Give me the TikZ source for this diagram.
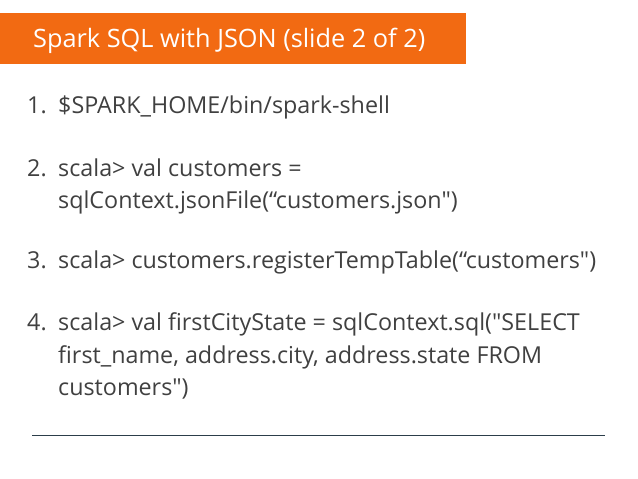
\documentclass[tikz,border=0pt]{standalone}
\usepackage{fontspec}
\setmainfont{Open Sans}[Ligatures=TeXOff]
\definecolor{barorange}{RGB}{242,106,18}
\definecolor{bodygray}{RGB}{64,64,64}
\definecolor{rulegray}{RGB}{44,62,74}
\begin{document}
\begin{tikzpicture}[x=1pt, y=-1pt, line join=round, line cap=round,
	title/.style={anchor=base west, inner sep=0pt, text=white, font=\fontsize{25.3}{30}\selectfont},
	num/.style={anchor=base west, inner sep=0pt, text=bodygray, font=\fontsize{23.3}{28}\selectfont},
	body/.style={anchor=base west, inner sep=0pt, text=bodygray, font=\fontsize{23.3}{28}\selectfont}]
	\def\W{638} \def\H{479} % page in px
	\def\xn{27} \def\xt{58} % number and text columns
	\useasboundingbox (0,0) rectangle (\W,\H);
	\fill[white] (0,0) rectangle (\W,\H);
	% header bar
	\fill[barorange] (0,13) rectangle (466,64);
	\node[title] (head) at (33,47) {Spark SQL with JSON (slide 2 of 2)};
	% numbers
	\foreach \n/\y in {1/113, 2/176, 3/268, 4/330}{
		\node[num] (n\n) at (\xn,\y) {\n.};
	}
	% lines of text
	\node[body] (t1) at (\xt,113) {\$SPARK\_HOME/bin/spark-shell};
	\node[body] (t2a) at (\xt,176) {scala> val customers =};
	\node[body] (t2b) at (\xt,208) {sqlContext.jsonFile(“customers.json")};
	\node[body] (t3) at (\xt,268) {scala> customers.registerTempTable(“customers")};
	\node[body] (t4a) at (\xt,330) {scala> val firstCityState = sqlContext.sql("SELECT};
	\node[body] (t4b) at (\xt,363) {first\_name, address.city, address.state FROM};
	\node[body] (t4c) at (\xt,395) {customers")};
	% rule at the foot
	\coordinate (r1) at (32,435);
	\coordinate (r2) at (605,435);
	\draw[rulegray, line width=0.8pt, line cap=butt] (r1) -- (r2);
\end{tikzpicture}
\end{document}
